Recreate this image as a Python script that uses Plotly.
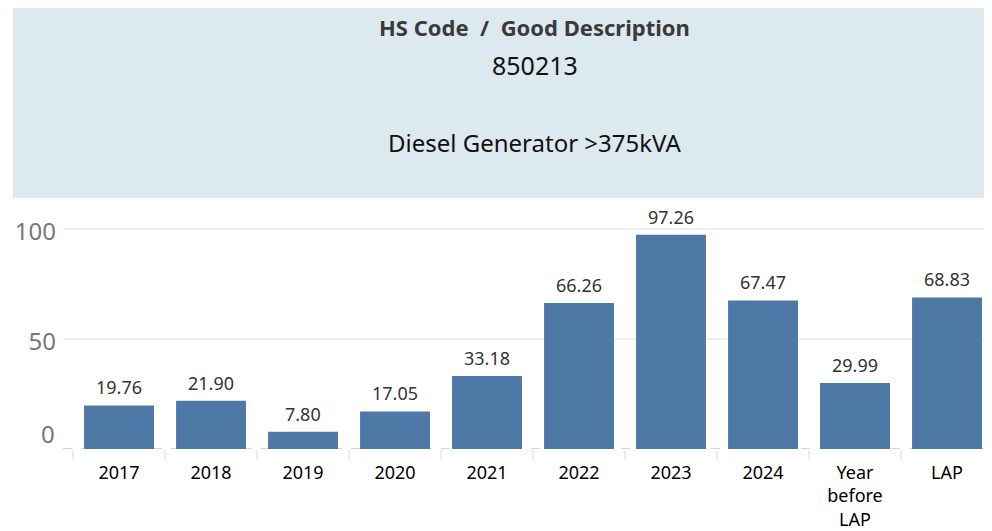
import plotly.graph_objects as go

categories = ["2017", "2018", "2019", "2020", "2021", "2022", "2023", "2024", "Year before LAP", "LAP"]
tick_labels = ["2017", "2018", "2019", "2020", "2021", "2022", "2023", "2024", "Year<br>before<br>LAP", "LAP"]
values = [19.76, 21.90, 7.80, 17.05, 33.18, 66.26, 97.26, 67.47, 29.99, 68.83]
y_ticks = [50, 100]

header_title = "<b>HS Code</b>  <b>/</b>  <b>Good Description</b>"
hs_code = "850213"
description = "Diesel Generator >375kVA"

FONT = "Noto Sans"
BAR = "#4e79a7"

fig = go.Figure(go.Bar(
    x=categories,
    y=values,
    marker=dict(color=BAR, line=dict(width=0)),
    hoverinfo="skip",
))

value_labels = [
    dict(text=f"{v:.2f}", x=i, y=v, xref="x", yref="y", showarrow=False,
         xanchor="center", yanchor="middle", yshift=18,
         font=dict(family=FONT, size=18, color="#333333"))
    for i, v in enumerate(values)
]

fig.update_layout(
    width=984, height=523,
    margin=dict(l=55, r=0, t=197, b=80),
    paper_bgcolor="white", plot_bgcolor="white",
    bargap=0.24,
    showlegend=False,
    font=dict(family=FONT),
    xaxis=dict(
        type="category",
        range=[-0.609, 9.489],
        tickmode="array",
        tickvals=categories,
        ticktext=tick_labels,
        tickson="boundaries",
        ticks="outside", ticklen=10, tickwidth=2, tickcolor="#ececec",
        ticklabelstandoff=11,
        tickfont=dict(family=FONT, size=18, color="#000000"),
        showgrid=False, showline=False, zeroline=False,
    ),
    yaxis=dict(
        range=[0, 110.8],
        tickmode="array", tickvals=y_ticks,
        tickfont=dict(family=FONT, size=24, color="#777777"),
        ticklabelshift=3,
        ticklabelstandoff=6,
        showgrid=True, gridcolor="#f0f0f0", gridwidth=2,
        zeroline=False, showline=False, ticks="",
    ),
    shapes=[
        dict(type="rect", xref="paper", yref="paper",
             x0=-0.0538, x1=1.0, y0=1.0285, y1=1.813,
             fillcolor="#dce9ef", line=dict(width=0), layer="below"),
        dict(type="line", xref="paper", yref="y",
             x0=0, x1=1, y0=0, y1=0, layer="below",
             line=dict(color="#c8c8c8", width=1.5, dash="dash")),
    ],
    annotations=[
        dict(text=header_title, xref="paper", yref="paper",
             x=0.508, y=1.73, showarrow=False, xanchor="center", yanchor="middle",
             font=dict(family=FONT, size=22, color="#3a3a3a")),
        dict(text=hs_code, xref="paper", yref="paper",
             x=0.508, y=1.573, showarrow=False, xanchor="center", yanchor="middle",
             font=dict(family=FONT, size=25, color="#111111")),
        dict(text=description, xref="paper", yref="paper",
             x=0.508, y=1.256, showarrow=False, xanchor="center", yanchor="middle",
             font=dict(family=FONT, size=24, color="#111111")),
        dict(text="0", xref="paper", yref="y",
             x=-0.0065, y=7, showarrow=False, xanchor="right", yanchor="middle",
             font=dict(family=FONT, size=24, color="#777777")),
    ] + value_labels,
)

fig.write_html("out.html")
